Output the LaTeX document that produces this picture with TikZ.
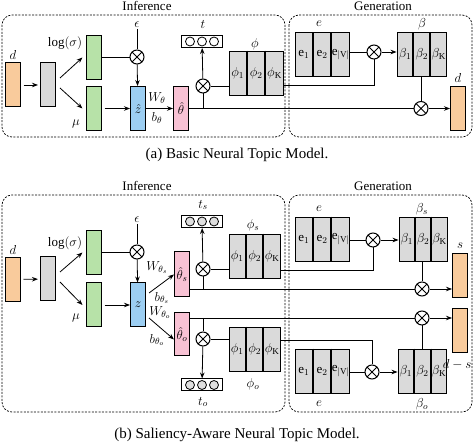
\RequirePackage{fix-cm}
\documentclass[tikz,border=0pt]{standalone}
\usepackage{fontspec}
\setmainfont{Liberation Serif}
\usetikzlibrary{arrows.meta, positioning, calc}
\definecolor{docC}{RGB}{249,203,156}
\definecolor{encC}{RGB}{217,217,217}
\definecolor{latC}{RGB}{183,226,168}
\definecolor{zC}{RGB}{156,206,242}
\definecolor{thetaC}{RGB}{248,194,212}
\definecolor{matC}{RGB}{218,218,218}

\begin{document}
\begin{tikzpicture}[
    x=1pt, y=-1pt,
    font=\fontsize{13}{15}\selectfont,
    inner sep=1pt,
    vec/.style={rectangle, draw, line width=1pt, minimum width=15pt, minimum height=44pt, inner sep=0pt},
    col/.style={rectangle, draw, line width=0.9pt, fill=matC, minimum height=44pt, inner sep=0pt},
    sep/.style={line width=2pt},
    tbox/.style={rectangle, draw, line width=1pt, minimum width=41pt, minimum height=12pt, inner sep=0pt},
    mul/.style={circle, draw, line width=1pt, minimum size=14pt, inner sep=0pt,
        path picture={\draw[line width=1pt] (path picture bounding box.north west) -- (path picture bounding box.south east)
            (path picture bounding box.north east) -- (path picture bounding box.south west);}},
    arr/.style={-{Stealth[length=6pt, width=4.5pt]}, line width=0.8pt},
    ln/.style={line width=0.8pt},
    region/.style={draw, dash pattern=on 2pt off 1.4pt, line width=0.7pt, rounded corners=10pt}
]
    \useasboundingbox (0,0) rectangle (474,443);

    % regions
    \draw[region] (2,15) rectangle (285,137);
    \draw[region] (289,15) rectangle (472,137);
    \draw[region] (2,195) rectangle (285,412);
    \draw[region] (289,195) rectangle (472,412);
    \node (infA) at (147,6) {Inference};
    \node (genA) at (383,6) {Generation};
    \node (infB) at (147,186) {Inference};
    \node (genB) at (383,186) {Generation};

    % matrices
    \foreach \nm/\x/\y/\w/\a/\b/\c in {
        phiA/229/73/17.5/\phi_1/\phi_2/\phi_{\mathrm{K}},
        eA/295/54.5/17.5/\mathrm{e}_1/\mathrm{e}_2/\mathrm{e}_{|\mathrm{V}|},
        betaA/397/54.5/16/\beta_1/\beta_2/\beta_{\mathrm{K}},
        phiS/229/256/16.5/\phi_1/\phi_2/\phi_{\mathrm{K}},
        eS/295/239/17.5/\mathrm{e}_1/\mathrm{e}_2/\mathrm{e}_{|\mathrm{V}|},
        betaS/399/239/15.5/\beta_1/\beta_2/\beta_{\mathrm{K}},
        phiO/229/349/16.5/\phi_1/\phi_2/\phi_{\mathrm{K}},
        eO/295/371/17.5/\mathrm{e}_1/\mathrm{e}_2/\mathrm{e}_{|\mathrm{V}|},
        betaO/398/371/15.7/\beta_1/\beta_2/\beta_{\mathrm{K}}}{
        \node[col, minimum width=\w pt] (\nm1) at (\x+\w/2,\y) {$\a$};
        \node[col, minimum width=\w pt, right=0pt of \nm1] (\nm2) {$\b$};
        \node[col, minimum width=\w pt, right=0pt of \nm2] (\nm3) {$\c$};
        \draw[sep] (\nm1.north east) -- (\nm1.south east) (\nm2.north east) -- (\nm2.south east);
    }

    % (a) basic model
    \node[vec, fill=docC] (dA) at (12.5,85) {};
    \node (dAl) at (13,55) {$d$};
    \node[vec, fill=encC] (encA) at (48,85) {};
    \node[vec, fill=latC] (sigA) at (93.5,57.5) {};
    \node[vec, fill=latC] (muA) at (93.5,108.5) {};
    \node (sigAl) at (65,43) {$\log(\sigma)$};
    \node (muAl) at (76,124) {$\mu$};
    \node[mul] (epsMulA) at (137,57) {};
    \node (epsA) at (137,25) {$\epsilon$};
    \node[vec, fill=zC] (zA) at (138,108.5) {$\hat{z}$};
    \node[vec, fill=thetaC] (thA) at (181,108.5) {$\hat{\theta}$};
    \node (wA) at (157,98) {$W_\theta$};
    \node (bA) at (157,118) {$b_\theta$};
    \node[mul] (tMulA) at (203,86) {};
    \node[tbox] (tA) at (202,41.5) {};
    \node (tAl) at (203,25) {$t$};
    \node (phiAl) at (255,44) {$\phi$};
    \node (eAl) at (319,24) {$e$};
    \node (betaAl) at (422,24) {$\beta$};
    \node[mul] (eMulA) at (374,52) {};
    \node[mul] (bMulA) at (421,108.5) {};
    \node[vec, fill=docC] (dOutA) at (458,108.5) {};
    \node (dOutAl) at (458,78) {$d$};
    \foreach \i in {-12,0,12}
        \draw[line width=0.8pt, fill=white] ([xshift=\i pt]tA.center) circle (4.5);

    \draw[arr, shorten <=3pt, shorten >=2pt] (dA) -- (encA);
    \draw[arr] ([shift={(4pt,7pt)}]encA.east) -- ([xshift=-3pt]sigA.west);
    \draw[arr] ([shift={(4pt,-3pt)}]encA.east) -- ([xshift=-3pt]muA.west);
    \draw[ln] (sigA.east |- epsMulA) -- (epsMulA);
    \draw[ln] (epsA) -- (epsMulA);
    \draw[arr] (epsMulA) -- (zA);
    \draw[arr, shorten <=3pt] (muA) -- (zA);
    \draw[arr] (zA) -- (thA);
    \draw[ln] (thA.east) -- (bMulA);
    \draw[arr] (bMulA) -- (dOutA);
    \draw[ln] (tMulA |- bMulA) -- (tMulA);
    \draw[arr] (tMulA) -- (tA);
    \draw[ln] (tMulA) -- (tMulA -| phiA1.west);
    \draw[ln] ([yshift=-12pt]phiA3.east) -| (eMulA);
    \draw[ln] (eA3.east |- eMulA) -- (eMulA);
    \draw[arr] (eMulA) -- (betaA1.west |- eMulA);
    \draw[ln] (bMulA |- betaA2.south) -- (bMulA);
    \node[font=\fontsize{15}{18}\selectfont] (capA) at (237,155) {(a) Basic Neural Topic Model.};

    % (b) saliency-aware model
    \node[vec, fill=docC] (dB) at (12.5,279.5) {};
    \node (dBl) at (13,250) {$d$};
    \node[vec, fill=encC] (encB) at (48,279) {};
    \node[vec, fill=latC] (sigB) at (93.5,252.5) {};
    \node[vec, fill=latC] (muB) at (93.5,305) {};
    \node (sigBl) at (65,243) {$\log(\sigma)$};
    \node (muBl) at (76,318) {$\mu$};
    \node[mul] (epsMulB) at (137,252) {};
    \node (epsB) at (137,220) {$\epsilon$};
    \node[vec, fill=zC] (zB) at (138,305) {$z$};
    \node[vec, fill=thetaC, minimum height=45pt] (thS) at (182,274.5) {$\hat{\theta}_s$};
    \node[vec, fill=thetaC, minimum height=43pt] (thO) at (182,334.5) {$\hat{\theta}_o$};
    \node (wS) at (157,268) {$W_{\theta_s}$};
    \node (bS) at (162,298) {$b_{\theta_s}$};
    \node (wO) at (160,313) {$W_{\theta_o}$};
    \node (bO) at (157,340) {$b_{\theta_o}$};
    \node[mul] (tMulS) at (203,269) {};
    \node[tbox] (tS) at (202,221.5) {};
    \node (tSl) at (203,205) {$t_s$};
    \node[mul] (tMulO) at (203,339) {};
    \node[tbox] (tO) at (202,385) {};
    \node (tOl) at (203,402) {$t_o$};
    \node (phiSl) at (253,225) {$\phi_s$};
    \node (eSl) at (319,209) {$e$};
    \node (betaSl) at (422,209) {$\beta_s$};
    \node (phiOl) at (253,384) {$\phi_o$};
    \node (eOl) at (319,404) {$e$};
    \node (betaOl) at (422,404) {$\beta_o$};
    \node[mul] (eMulS) at (373,240) {};
    \node[mul] (eMulO) at (372,372) {};
    \node[mul] (bMulS) at (422,289) {};
    \node[mul] (bMulO) at (422,318) {};
    \node[vec, fill=docC] (sOut) at (460,276) {};
    \node (sOutl) at (460,246) {$s$};
    \node[vec, fill=docC] (dsOut) at (460,331) {};
    \node (dsOutl) at (457,365) {$d-s$};
    \foreach \i in {-12,0,12}{
        \draw[line width=0.8pt, fill=gray!25] ([xshift=\i pt]tS.center) circle (4.5);
        \draw[line width=0.8pt, fill=gray!25] ([xshift=\i pt]tO.center) circle (4.5);
    }

    \draw[arr, shorten <=3pt, shorten >=2pt] (dB) -- (encB);
    \draw[arr] ([shift={(4pt,7pt)}]encB.east) -- ([xshift=-3pt]sigB.west);
    \draw[arr] ([shift={(4pt,-3pt)}]encB.east) -- ([xshift=-3pt]muB.west);
    \draw[ln] (sigB.east |- epsMulB) -- (epsMulB);
    \draw[ln] (epsB) -- (epsMulB);
    \draw[arr] (epsMulB) -- (zB);
    \draw[arr, shorten <=3pt] (muB) -- (zB);
    \draw[arr] ([shift={(3pt,12pt)}]zB.east) -- (thS.west);
    \draw[arr] ([shift={(3pt,-13pt)}]zB.east) -- ([yshift=-5pt]thO.west);
    \draw[ln] (thS.east |- bMulS) -- (bMulS);
    \draw[arr] (bMulS) -- (sOut.west |- bMulS);
    \draw[ln] (tMulS |- bMulS) -- (tMulS);
    \draw[arr] (tMulS) -- (tS);
    \draw[ln] (tMulS) -- (tMulS -| phiS1.west);
    \draw[ln] ([yshift=-14pt]phiS3.east) -| (eMulS);
    \draw[ln] (eS3.east |- eMulS) -- (eMulS);
    \draw[arr] (eMulS) -- (betaS1.west |- eMulS);
    \draw[ln] (bMulS |- betaS2.south) -- (bMulS);
    \draw[ln] (thO.east |- bMulO) -- (bMulO);
    \draw[arr] (bMulO) -- (dsOut.west |- bMulO);
    \draw[ln] (tMulO |- bMulO) -- (tMulO);
    \draw[arr] (tMulO) -- (tO);
    \draw[ln] (tMulO) -- (tMulO -| phiO1.west);
    \draw[ln] ([yshift=9pt]phiO3.east) -| (eMulO);
    \draw[ln] (eO3.east |- eMulO) -- (eMulO);
    \draw[arr] (eMulO) -- (betaO1.west |- eMulO);
    \draw[ln] (bMulO |- betaO2.north) -- (bMulO);
    \node[font=\fontsize{15}{18}\selectfont] (capB) at (237,435) {(b) Saliency-Aware Neural Topic Model.};
\end{tikzpicture}
\end{document}
